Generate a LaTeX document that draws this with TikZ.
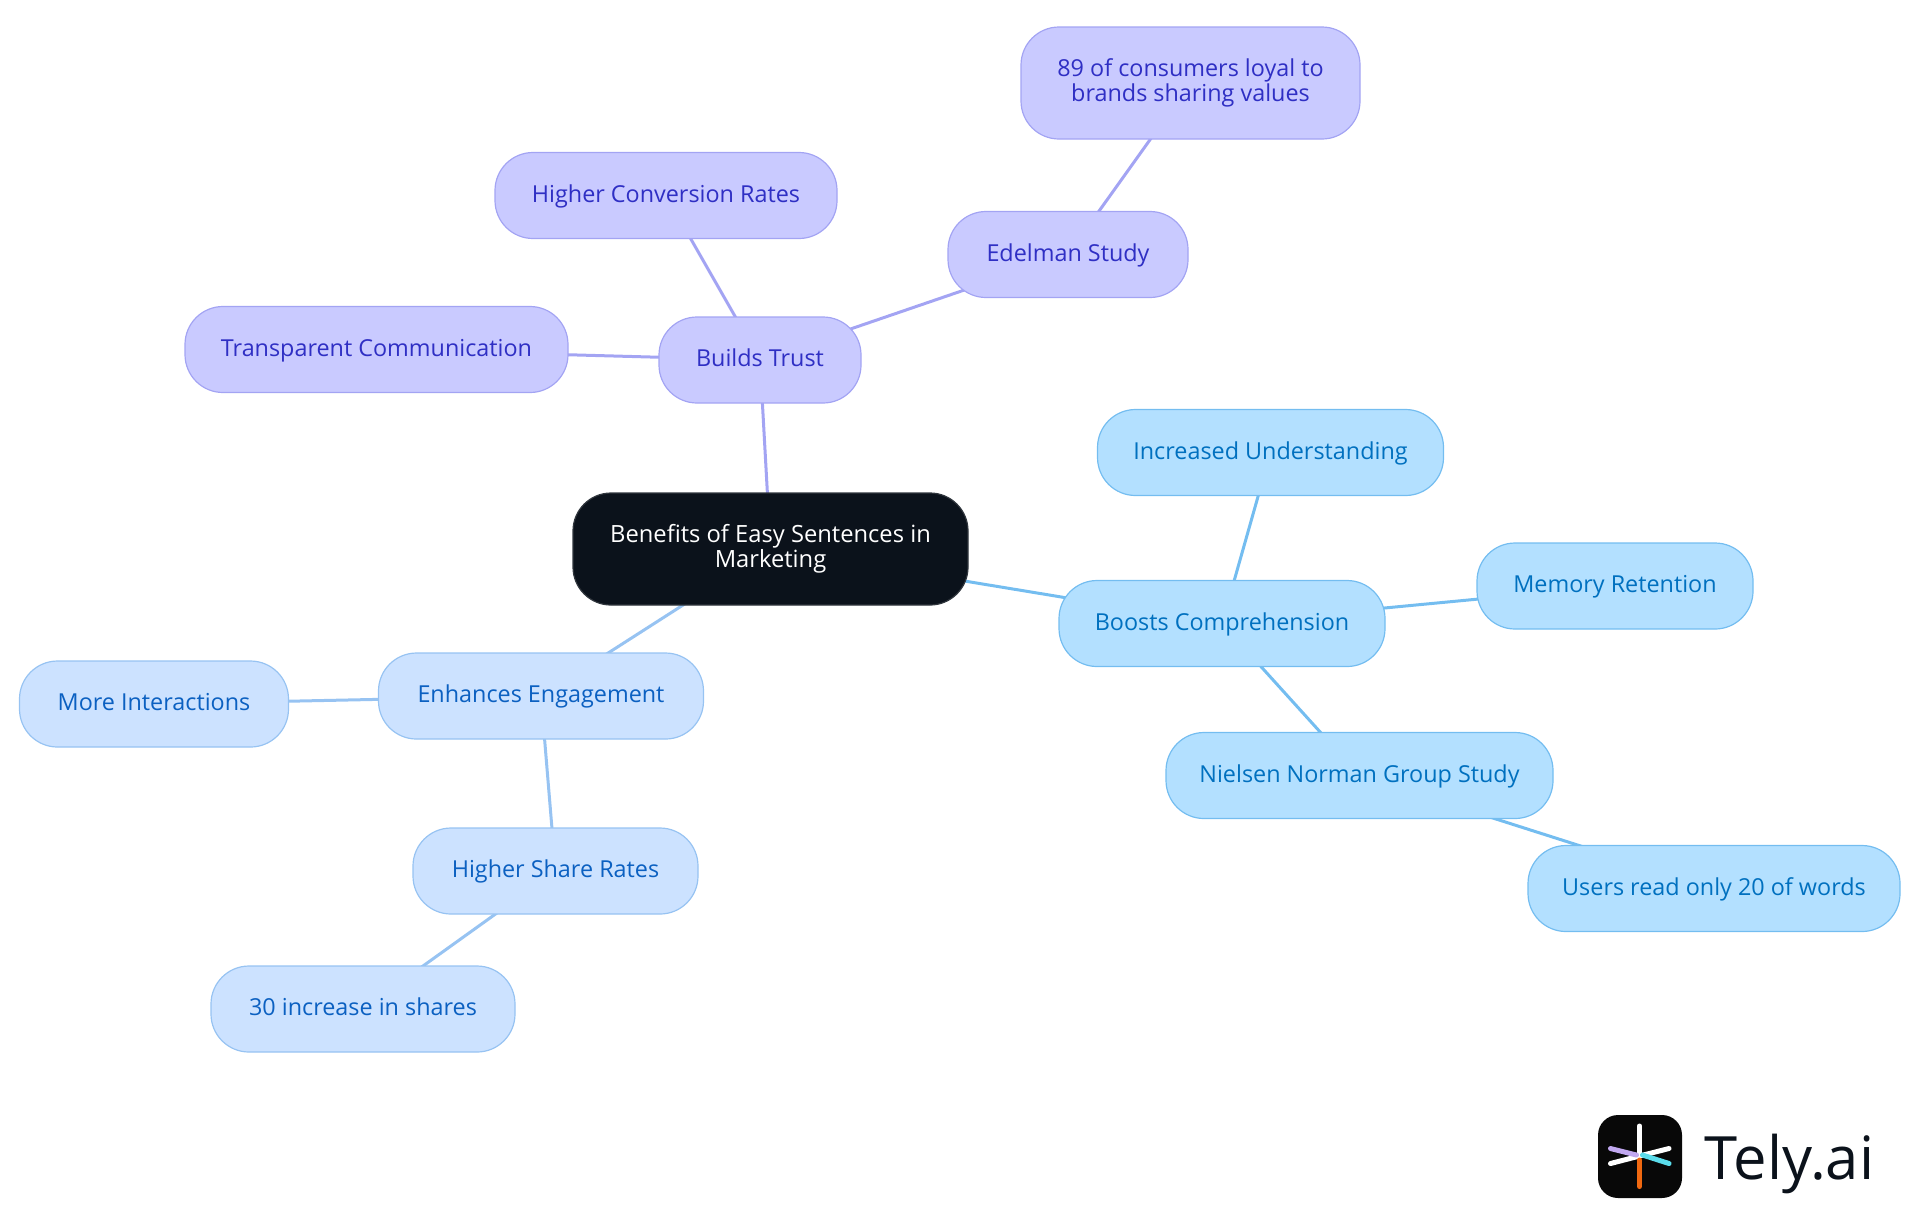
\documentclass[tikz,border=0pt]{standalone}
\usepackage{fontspec}
\usepackage{xcolor}
\usepackage{tikz}
\usetikzlibrary{backgrounds}
\setmainfont{Open Sans}
\definecolor{rootfill}{HTML}{0B121B}
\definecolor{trustfill}{HTML}{C9CAFF}
\definecolor{trustline}{HTML}{A3A4F3}
\definecolor{trusttext}{HTML}{2F2FC4}
\definecolor{boostfill}{HTML}{B3E0FF}
\definecolor{boostline}{HTML}{74BDF0}
\definecolor{boosttext}{HTML}{0070BF}
\definecolor{engagefill}{HTML}{CCE2FF}
\definecolor{engageline}{HTML}{97C3F2}
\definecolor{engagetext}{HTML}{0B60C1}
\tikzset{
	topic/.style={rounded corners=3.8mm,inner sep=0pt,align=center,minimum height=8.6mm,line width=0.12mm,
		text height=5pt,text depth=1.2pt,font=\fontsize{6.65}{7}\selectfont},
	twoline/.style={minimum height=11.2mm,text height=,text depth=},
	trust/.style={topic,draw=trustline,fill=trustfill,text=trusttext},
	boost/.style={topic,draw=boostline,fill=boostfill,text=boosttext},
	engage/.style={topic,draw=engageline,fill=engagefill,text=engagetext},
	trustedge/.style={draw=trustline,line width=0.3mm},
	boostedge/.style={draw=boostline,line width=0.3mm},
	engageedge/.style={draw=engageline,line width=0.3mm},
	spoke/.style={line width=0.5mm,line cap=round},
}
\begin{document}
\begin{tikzpicture}
	\useasboundingbox (0,0) rectangle (19.2,-12.15);
	\node[topic,twoline,draw=rootfill!85!white,fill=rootfill,text=white,minimum width=39.5mm,font=\fontsize{6.75}{7}\selectfont] (root) at (7.705,-5.49) {Benefits of Easy Sentences in\\Marketing};

	\node[trust,minimum width=20.2mm] (trust) at (7.60,-3.60) {Builds Trust};
	\node[trust,minimum width=38.3mm] (transparent) at (3.765,-3.495) {Transparent Communication};
	\node[trust,minimum width=34.2mm] (conversion) at (6.66,-1.955) {Higher Conversion Rates};
	\node[trust,minimum width=24.0mm] (edelman) at (10.68,-2.545) {Edelman Study};
	\node[trust,twoline,minimum width=33.9mm] (loyal) at (11.905,-0.83) {89 of consumers loyal to\\brands sharing values};

	\node[boost,minimum width=32.6mm] (comprehension) at (12.22,-6.235) {Boosts Comprehension};
	\node[boost,minimum width=34.6mm] (understanding) at (12.705,-4.525) {Increased Understanding};
	\node[boost,minimum width=27.6mm] (memory) at (16.15,-5.86) {Memory Retention};
	\node[boost,minimum width=38.7mm] (nielsen) at (13.595,-7.755) {Nielsen Norman Group Study};
	\node[boost,minimum width=37.2mm] (users) at (17.14,-8.885) {Users read only 20 of words};

	\node[engage,minimum width=32.5mm] (engagement) at (5.41,-6.96) {Enhances Engagement};
	\node[engage,minimum width=26.9mm] (interactions) at (1.54,-7.04) {More Interactions};
	\node[engage,minimum width=28.5mm] (share) at (5.555,-8.71) {Higher Share Rates};
	\node[engage,minimum width=30.4mm] (shares) at (3.63,-10.09) {30 increase in shares};

	\begin{scope}[on background layer]
		\draw[trustedge] (root.center) -- (trust.center);
		\draw[trustedge] (trust.center) -- (transparent.center);
		\draw[trustedge] (trust.center) -- (conversion.center);
		\draw[trustedge] (trust.center) -- (edelman.center);
		\draw[trustedge] (edelman.center) -- (loyal.center);
		\draw[boostedge] (root.center) -- (comprehension.center);
		\draw[boostedge] (comprehension.center) -- (understanding.center);
		\draw[boostedge] (comprehension.center) -- (memory.center);
		\draw[boostedge] (comprehension.center) -- (nielsen.center);
		\draw[boostedge] (nielsen.center) -- (users.center);
		\draw[engageedge] (root.center) -- (engagement.center);
		\draw[engageedge] (engagement.center) -- (interactions.center);
		\draw[engageedge] (engagement.center) -- (share.center);
		\draw[engageedge] (share.center) -- (shares.center);
	\end{scope}

	\fill[black!97!white,rounded corners=2mm] (15.98,-11.15) rectangle (16.82,-11.98);
	\draw[spoke,white] (16.395,-11.56) -- (16.395,-11.26);
	\draw[spoke,white] (16.395,-11.56) -- (16.105,-11.635);
	\draw[spoke,white] (16.395,-11.56) -- (16.69,-11.485);
	\draw[spoke,color={rgb,255:red,193;green,168;blue,240}] (16.365,-11.55) -- (16.105,-11.485);
	\draw[spoke,color={rgb,255:red,90;green,220;blue,235}] (16.425,-11.55) -- (16.69,-11.635);
	\draw[spoke,color={rgb,255:red,240;green,104;blue,16}] (16.395,-11.60) -- (16.395,-11.865);
	\node[inner sep=0pt,anchor=base west,text=rootfill,font=\fontsize{17}{17}\selectfont] (brand) at (17.04,-11.79) {Tely.ai};
\end{tikzpicture}
\end{document}
